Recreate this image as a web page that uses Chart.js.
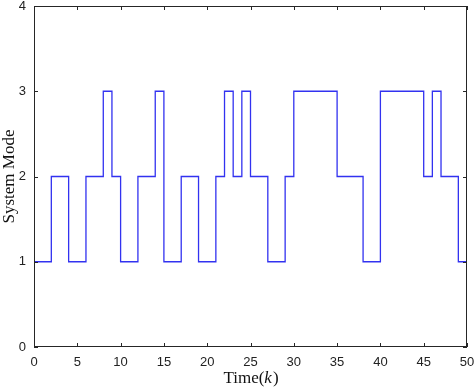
<!DOCTYPE html>
<html>
<head>
<meta charset="utf-8">
<script src="https://cdn.jsdelivr.net/npm/chart.js@4/dist/chart.umd.min.js"></script>
<style>
  html, body { margin: 0; padding: 0; background: #fff; }
  #wrap { width: 474px; height: 388px; }
</style>
</head>
<body>
<div id="wrap"><canvas id="grafico"></canvas></div>
<script>
// time steps k = 0..50 and the active mode on [k, k+1)
const timeSteps = [0,1,2,3,4,5,6,7,8,9,10,11,12,13,14,15,16,17,18,19,20,21,22,23,24,25,
                   26,27,28,29,30,31,32,33,34,35,36,37,38,39,40,41,42,43,44,45,46,47,48,49,50];
const systemMode = [1,1,2,2,1,1,2,2,3,2,1,1,2,2,3,1,1,2,2,1,1,2,3,2,3,2,
                    2,1,1,2,3,3,3,3,3,2,2,2,1,1,3,3,3,3,3,2,3,2,2,1,1];
const xTicks = [0,5,10,15,20,25,30,35,40,45,50];
const yTicks = [0,1,2,3,4];

const puntos = timeSteps.map((k, i) => ({ x: k, y: systemMode[i] }));

// caja, marcas hacia dentro y titulos de ejes estilo MATLAB
const marco = {
    id: 'marco',
    afterDraw(chart) {
        const ctx = chart.ctx;
        const a = chart.chartArea;
        const sx = chart.scales.x, sy = chart.scales.y;
        ctx.save();
        ctx.strokeStyle = '#262626';
        ctx.lineWidth = 1;
        ctx.strokeRect(a.left + 0.5, a.top + 0.5, a.right - a.left - 1, a.bottom - a.top - 1);
        ctx.beginPath();
        xTicks.forEach(v => {
            let px = Math.round(sx.getPixelForValue(v)) + 0.5;
            ctx.moveTo(px, a.bottom); ctx.lineTo(px, a.bottom - 4);
            ctx.moveTo(px, a.top); ctx.lineTo(px, a.top + 4);
        });
        yTicks.forEach(v => {
            let py = Math.round(sy.getPixelForValue(v)) + 0.5;
            ctx.moveTo(a.left, py); ctx.lineTo(a.left + 4, py);
            ctx.moveTo(a.right, py); ctx.lineTo(a.right - 4, py);
        });
        ctx.stroke();

        ctx.fillStyle = '#111';
        ctx.textBaseline = 'middle';
        // Time(k) con k en cursiva
        let cx = (a.left + a.right) / 2;
        let normal = '17px "Liberation Serif", "DejaVu Serif", serif';
        let italic = 'italic 17px "Liberation Serif", "DejaVu Serif", serif';
        ctx.font = normal;
        let w1 = ctx.measureText('Time(').width, w3 = ctx.measureText(')').width;
        ctx.font = italic;
        let w2 = ctx.measureText('k').width;
        let x0 = cx - (w1 + w2 + w3) / 2, ty = 379;
        ctx.textAlign = 'left';
        ctx.font = normal; ctx.fillText('Time(', x0, ty);
        ctx.font = italic; ctx.fillText('k', x0 + w1, ty);
        ctx.font = normal; ctx.fillText(')', x0 + w1 + w2 + 1, ty);

        ctx.translate(10, (a.top + a.bottom) / 2);
        ctx.rotate(-Math.PI / 2);
        ctx.textAlign = 'center';
        ctx.font = normal;
        ctx.fillText('System Mode', 0, 0);
        ctx.restore();
    }
};

const ctx = document.getElementById('grafico').getContext('2d');
window.myChart = new Chart(ctx, {
    type: 'line',
    data: {
        datasets: [{
            label: 'System Mode',
            data: puntos,
            stepped: true,
            borderColor: 'rgb(50,50,240)',
            borderWidth: 1.3,
            pointRadius: 0,
            fill: false
        }]
    },
    options: {
        responsive: true,
        maintainAspectRatio: false,
        animation: false,
        layout: { padding: { top: 6, right: 7, left: 0, bottom: 0 } },
        plugins: {
            legend: { display: false },
            tooltip: { enabled: false }
        },
        scales: {
            x: {
                type: 'linear',
                min: 0, max: 50,
                afterBuildTicks: s => { s.ticks = xTicks.map(v => ({ value: v })); },
                afterFit: s => { s.height = 41; s.paddingLeft = 0; s.paddingRight = 0; },
                grid: { display: false, drawTicks: false },
                border: { display: false },
                ticks: {
                    color: '#222', padding: 8, maxRotation: 0,
                    font: { family: '"Liberation Sans", Arial, sans-serif', size: 13 }
                }
            },
            y: {
                min: 0, max: 4,
                afterBuildTicks: s => { s.ticks = yTicks.map(v => ({ value: v })); },
                afterFit: s => { s.width = 34; s.paddingTop = 0; s.paddingBottom = 0; },
                grid: { display: false, drawTicks: false },
                border: { display: false },
                ticks: {
                    color: '#222', padding: 8,
                    font: { family: '"Liberation Sans", Arial, sans-serif', size: 13 }
                }
            }
        }
    },
    plugins: [marco]
});
</script>
</body>
</html>
